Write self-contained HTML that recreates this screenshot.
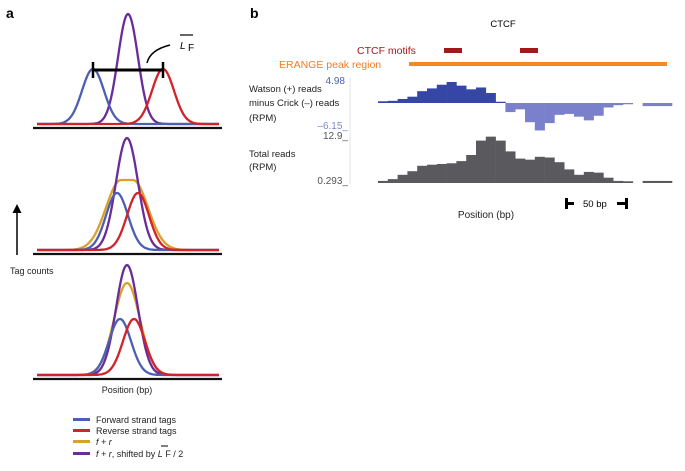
<!DOCTYPE html>
<html><head><meta charset="utf-8"><style>
body{margin:0;background:#fff;}
svg{display:block;font-family:"Liberation Sans",sans-serif;}
</style></head><body>
<svg id="fig" width="685" height="471" viewBox="0 0 685 471">
<text x="6" y="18" font-size="14" font-weight="bold">a</text>
<text x="250" y="18" font-size="14" font-weight="bold">b</text>
<g id="pa"></g>
<g>
<line x1="92" y1="70" x2="164" y2="70" stroke="#000" stroke-width="3"/>
<line x1="93" y1="62" x2="93" y2="78" stroke="#000" stroke-width="2.5"/>
<line x1="163" y1="62" x2="163" y2="78" stroke="#000" stroke-width="2.5"/>
<path d="M147 63 Q150 50 170 45" fill="none" stroke="#000" stroke-width="1.5"/>
<line x1="180" y1="35" x2="193" y2="35" stroke="#000" stroke-width="1.2"/>
<text x="180" y="49" font-size="10" font-style="italic">L</text>
<text x="188" y="51" font-size="10">F</text>
</g>
<g>
<line x1="17" y1="255" x2="17" y2="212" stroke="#000" stroke-width="1.5"/>
<path d="M12.5 213 L17 204 L21.5 213 Z" fill="#000"/>
</g>
<text x="10" y="274" font-size="9" fill="#222">Tag counts</text>
<text x="127" y="393" font-size="9" fill="#222" text-anchor="middle">Position (bp)</text>
<g font-size="9" fill="#222">
<rect x="73" y="418" width="17" height="3" fill="#4d5fb0"/>
<text x="96" y="423">Forward strand tags</text>
<rect x="73" y="429" width="17" height="3" fill="#d2222a"/>
<text x="96" y="434">Reverse strand tags</text>
<rect x="73" y="440" width="17" height="3" fill="#d9a12a"/>
<text x="96" y="445" font-style="italic">f + r</text>
<rect x="73" y="452" width="17" height="3" fill="#6a2c9a"/>
<text x="96" y="457"><tspan font-style="italic">f + r</tspan>, shifted by <tspan font-style="italic">L</tspan> F / 2</text>
<line x1="161" y1="446" x2="168" y2="446" stroke="#000" stroke-width="1"/>
</g>
<text x="503" y="27" font-size="9.5" text-anchor="middle">CTCF</text>
<text x="357" y="54" font-size="10.5" fill="#a01a1a">CTCF motifs</text>
<rect x="444" y="48" width="18" height="5" fill="#a01a1a"/>
<rect x="520" y="48" width="18" height="5" fill="#a01a1a"/>
<text x="279" y="68" font-size="10.5" fill="#f07c2a">ERANGE peak region</text>
<rect x="409" y="62" width="258" height="4" fill="#f58a25"/>
<line x1="350" y1="78" x2="350" y2="184" stroke="#e6e6e6" stroke-width="1"/>
<text x="345" y="84" font-size="10" fill="#4a5fb5" text-anchor="end">4.98</text>
<text x="249" y="92" font-size="9.5" fill="#222"><tspan x="249">Watson (+) reads</tspan><tspan x="249" dy="14">minus Crick (–) reads</tspan><tspan x="249" dy="15">(RPM)</tspan></text>
<text x="348" y="129" font-size="10" fill="#8088c8" text-anchor="end">–6.15_</text>
<text x="348" y="139" font-size="10" fill="#555" text-anchor="end">12.9_</text>
<text x="249" y="157" font-size="9.5" fill="#222"><tspan x="249">Total reads</tspan><tspan x="249" dy="13">(RPM)</tspan></text>
<text x="348" y="184" font-size="10" fill="#555" text-anchor="end">0.293_</text>
<g id="pb"></g>
<g>
<rect x="565" y="198" width="3" height="11" fill="#000"/>
<rect x="565" y="202" width="9" height="3" fill="#000"/>
<rect x="625" y="198" width="3" height="11" fill="#000"/>
<rect x="617" y="202" width="10" height="3" fill="#000"/>
<text x="583" y="207" font-size="9.5">50 bp</text>
</g>
<text x="486" y="218" font-size="10" fill="#222" text-anchor="middle">Position (bp)</text>
</svg>
<script>
// Panel a: curve parameters per subpanel (center pos, peak height, width)
const panelBaselines = [126, 252, 377];
const curveNames = ['forward','reverse','sum','shifted'];
const curveColors = {forward:'#4d5fb0',reverse:'#d2222a',sum:'#d9a12a',shifted:'#6a2c9a'};
const centers = [[93,163,null,128],[117,138,127,127],[120,134,127,127]];
const heights = [[55,55,null,110],[57,57,70,112],[56,56,92,110]];
const widths = [[11,11,null,10],[11,11,15,11],[11,11,13,11]];
// Panel b data (bins)
const positions = [0,10,20,30,40,50,60,70,80,90,100,110,120,130,140,150,160,170,180,190,200,210,220,230,240,250,260,270,280,290];
const watson = [0.2,0.3,0.7,1.2,2.4,3.0,3.8,4.4,3.6,2.8,3.2,2.0,0.1,-1.8,-1.2,-4.0,-5.8,-4.2,-2.4,-2.2,-2.8,-3.6,-2.6,-0.8,-0.3,-0.1,null,-0.5,-0.5,-0.5];
const totals = [0.3,0.8,2.0,3.0,4.5,4.8,5.0,5.2,5.8,7.5,11.5,12.6,11.5,8.5,6.5,6.2,7.0,6.8,5.5,3.5,2.0,2.8,2.6,1.2,0.3,0.2,null,0.3,0.3,0.3];

const NS='http://www.w3.org/2000/svg';
const pa=document.getElementById('pa');
panelBaselines.forEach((b,p)=>{
  const ax=document.createElementNS(NS,'line');
  ax.setAttribute('x1',33);ax.setAttribute('x2',222);ax.setAttribute('y1',b+2);ax.setAttribute('y2',b+2);
  ax.setAttribute('stroke','#111');ax.setAttribute('stroke-width',2.2);
  
  
  pa.appendChild(ax);
  const order=[2,3,0,1];
  order.forEach(k=>{
    if(centers[p][k]===null) return;
    let d='';
    for(let x=37;x<=219;x+=1){
      let v=heights[p][k]*Math.exp(-Math.pow((x-centers[p][k])/widths[p][k],2)/2);
      if(k===2 && p===1){ v=heights[p][k]*Math.exp(-Math.pow(Math.max(0,Math.abs(x-centers[p][k])-6)/widths[p][k],2)/2);}
      d+=(x===37?'M':'L')+x+' '+(b-2-v).toFixed(1);
    }
    const path=document.createElementNS(NS,'path');
    path.setAttribute('d',d);path.setAttribute('fill','none');
    path.setAttribute('stroke',curveColors[curveNames[k]]);path.setAttribute('stroke-width',2.3);
    
    
    pa.appendChild(path);
  });
});
const pb=document.getElementById('pb');
const xS=v=>378+v*(294/300);
const bw=294/30;
const wBase=103, wScale=4.6;
const tBase=183, tScale=3.6;
positions.forEach((pos,i)=>{
  const wv=watson[i];
  if(wv!==null){
    const r=document.createElementNS(NS,'rect');
    const h=Math.abs(wv)*wScale+0.8;
    r.setAttribute('x',xS(pos));r.setAttribute('width',bw+0.3);
    r.setAttribute('y',wv>=0?wBase-h:wBase);r.setAttribute('height',h);
    r.setAttribute('fill',wv>=0?'#3646a6':'#7b80cc');
    
    
    pb.appendChild(r);
  }
  const tv=totals[i];
  if(tv!==null){
    const r=document.createElementNS(NS,'rect');
    const h=tv*tScale+1;
    r.setAttribute('x',xS(pos));r.setAttribute('width',bw+0.3);
    r.setAttribute('y',tBase-h);r.setAttribute('height',h);
    r.setAttribute('fill','#5a5a5e');
    
    
    pb.appendChild(r);
  }
});
</script>
</body></html>
